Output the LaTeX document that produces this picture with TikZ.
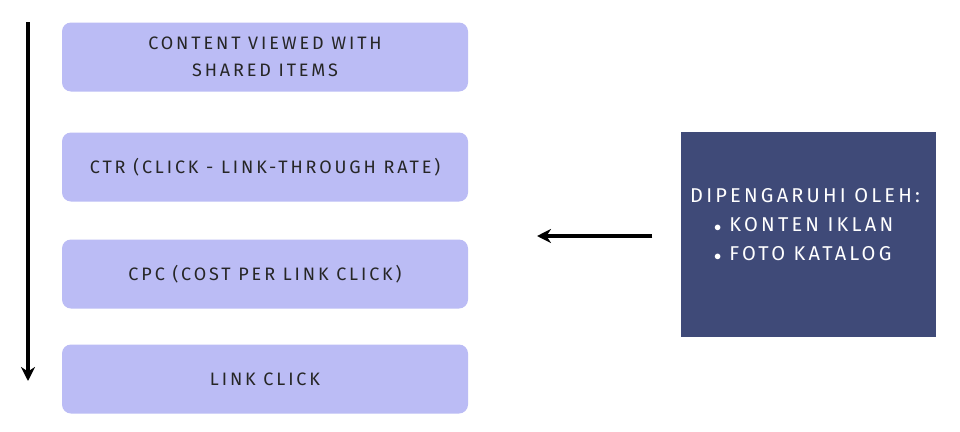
\documentclass[tikz,border=0pt]{standalone}
\usepackage{fontspec}
\setmainfont{Fira Sans}[LetterSpace=16]
\usetikzlibrary{arrows.meta}
\definecolor{lav}{HTML}{BBBCF5}
\definecolor{navy}{HTML}{3F4A78}
\begin{document}
\begin{tikzpicture}[x=1pt,y=-1pt,
  box/.style={fill=lav,rounded corners=9pt,minimum width=406pt,minimum height=69pt,align=center,font=\fontsize{18}{27}\selectfont,text=black!85},
  arr/.style={line width=3.5pt,-{Stealth[length=14pt,width=14pt]}}]
\useasboundingbox[fill=white] (0,0) rectangle (960,431);
\node[box] (b1) at (265,57) {CONTENT VIEWED WITH\\SHARED ITEMS};
\node[box] (b2) at (265,167) {CTR (CLICK - LINK-THROUGH RATE)};
\node[box] (b3) at (265,274) {CPC (COST PER LINK CLICK)};
\node[box] (b4) at (265,379) {LINK CLICK};
\coordinate (t) at (28,22);
\coordinate (e) at (28,381);
\draw[arr] (t) -- (e);
\node[fill=navy,minimum width=255pt,minimum height=205pt] (d) at (808,234) {};
\node[text=white,align=left,anchor=north west,inner sep=0pt,font=\fontsize{20}{29}\selectfont] (dt) at (690,188)
 {DIPENGARUHI OLEH:\\\hspace*{1.2em}{\Large$\bullet$}\hspace{0.4em}KONTEN IKLAN\\\hspace*{1.2em}{\Large$\bullet$}\hspace{0.4em}FOTO KATALOG};
\coordinate (a2) at (537,236);
\draw[arr] (d.west)++(-28,2) -- (a2);
\end{tikzpicture}
\end{document}
